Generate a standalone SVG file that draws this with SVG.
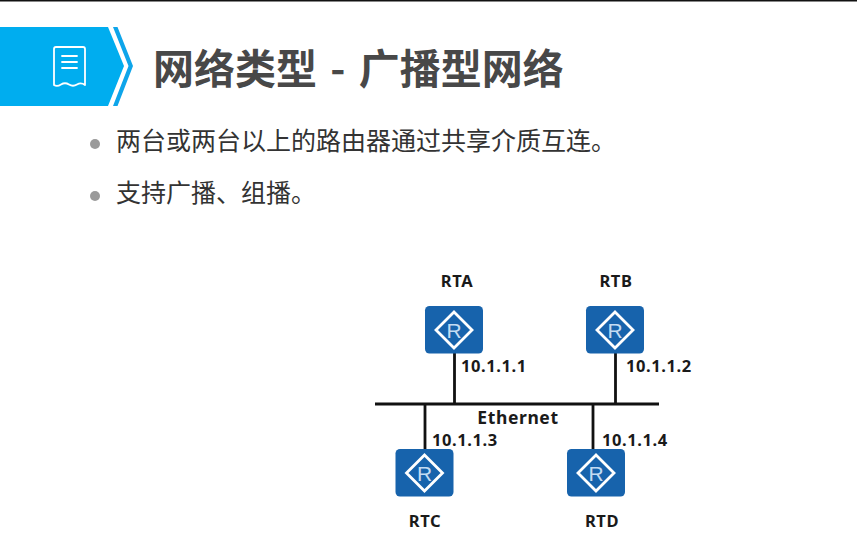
<svg xmlns="http://www.w3.org/2000/svg" width="857" height="548" viewBox="0 0 857 548">
<style>
.lb{font-family:"Noto Sans","DejaVu Sans",sans-serif;font-weight:700;font-size:16.500px;letter-spacing:.6px;fill:#1a1a1a}
.c{text-anchor:middle}
.t{font-family:"Noto Sans CJK SC","Noto Sans",sans-serif;font-size:25px;fill:#333}
.ln{stroke:#111;stroke-width:2.8;fill:none}
.box{fill:#1763ac}
.dia{fill:none;stroke:#fff;stroke-width:2.8}
.r{font-family:"Liberation Sans",sans-serif;font-size:21px;fill:#c4dcf2;text-anchor:middle}
.ico{fill:none;stroke:#fff;stroke-width:1.8;stroke-linejoin:round;stroke-linecap:round}
</style>
<defs>
<g id="router">
<rect class="box" x="-29" y="-24" width="58" height="47.500" rx="4.500"/>
<path class="dia" d="M0 -18 L18 0 L0 18 L-18 0Z"/>
<text class="r" x="0" y="7.500">R</text>
</g>
</defs>
<rect width="857" height="548" fill="#fff"/>
<rect width="857" height="1.500" fill="#111"/>
<g id="header">
<path d="M0 27H108L124 66L108 106H0Z" fill="#00adef"/>
<path d="M113 27H117.500L133 66L117.500 106H113L128.500 66Z" fill="#0ea5ea"/>
<path class="ico" d="M54 49Q54 47 56 47H83Q85 47 85 49V85Q81 82 77 84.500Q73 87 69 84.500Q65 82 61 84.500Q57 87 54 85Z"/>
<path class="ico" d="M62 56H77M62 62H77M62 68H77"/>
<text x="153" y="84" word-spacing="4" font-family="'Noto Sans CJK SC','Noto Sans',sans-serif" font-weight="700" font-size="41" fill="#484848">网络类型 - 广播型网络</text>
</g>
<g id="bullets">
<circle cx="95" cy="144" r="5" fill="#9a9a9a"/>
<text class="t" x="116" y="150">两台或两台以上的路由器通过共享介质互连。</text>
<circle cx="95" cy="196" r="5" fill="#9a9a9a"/>
<text class="t" x="116" y="202">支持广播、组播。</text>
</g>
<g id="connectors">
<path class="ln" d="M375 404H659M454.500 353V404M615.500 353V404M425 404V450M593 404V450"/>
</g>
<g id="ethernet"><text class="lb c" x="518" y="424" style="font-size:17.500px">Ethernet</text></g>
<g id="rta"><use href="#router" x="454" y="330"/><text class="lb c" x="457" y="287">RTA</text><text class="lb" x="461" y="372">10.1.1.1</text></g>
<g id="rtb"><use href="#router" x="615" y="330"/><text class="lb c" x="616" y="287">RTB</text><text class="lb" x="626" y="372">10.1.1.2</text></g>
<g id="rtc"><use href="#router" x="424.500" y="473"/><text class="lb c" x="425" y="527">RTC</text><text class="lb" x="432" y="446">10.1.1.3</text></g>
<g id="rtd"><use href="#router" x="596" y="473"/><text class="lb c" x="602" y="527">RTD</text><text class="lb" x="602" y="446">10.1.1.4</text></g>
</svg>
